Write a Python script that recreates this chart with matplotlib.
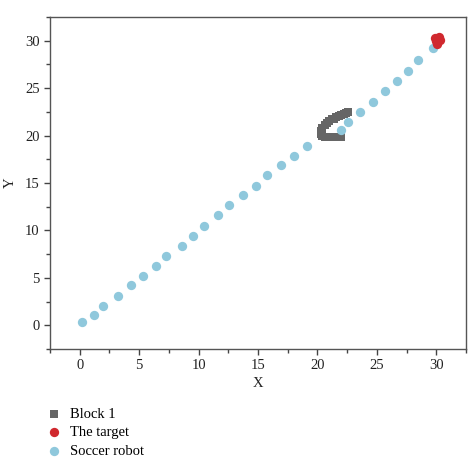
import matplotlib
matplotlib.use('Agg')
import matplotlib.pyplot as plt
from matplotlib.ticker import MultipleLocator

plt.rcParams['font.family'] = ['Liberation Serif', 'DejaVu Serif']

# soccer robot path
robot_x = [0.2, 1.2, 2.0, 3.2, 4.3, 5.3, 6.4, 7.3, 8.6, 9.5, 10.5, 11.6, 12.6, 13.7, 14.8,
           15.8, 16.9, 18.0, 19.1, 22.0, 22.6, 23.6, 24.7, 25.7, 26.7, 27.6, 28.5, 29.7]
robot_y = [0.4, 1.1, 2.0, 3.1, 4.2, 5.2, 6.3, 7.3, 8.4, 9.4, 10.5, 11.6, 12.7, 13.7, 14.7,
           15.8, 16.9, 17.8, 18.9, 20.6, 21.4, 22.5, 23.5, 24.7, 25.8, 26.8, 28.0, 29.2]

# obstacle (block 1)
block_x = [22.6, 22.4, 22.2, 22.0, 21.8, 21.6, 21.4, 21.2, 21.0, 20.8, 20.6, 20.4, 20.3, 20.3,
           20.4, 20.6, 20.9, 21.2, 21.5, 21.8, 22.0]
block_y = [22.5, 22.4, 22.3, 22.2, 22.1, 22.0, 21.8, 21.7, 21.5, 21.3, 21.1, 20.8, 20.5, 20.2,
           20.0, 19.9, 19.85, 19.85, 19.85, 19.85, 19.85]

# target
target_x = [30.0, 30.2, 30.1, 30.3, 29.9, 30.2]
target_y = [30.0, 30.2, 29.7, 30.1, 30.3, 30.4]

fig = plt.figure(figsize=(4.74, 4.74), dpi=100)
ax = fig.add_axes([0.1055, 0.2637, 0.8775, 0.7003])

ax.scatter(block_x, block_y, marker='s', s=28, color='#666666', linewidths=0, label='Block 1', zorder=2)
ax.scatter(robot_x, robot_y, marker='o', s=45, color='#8fc8dc', linewidths=0, label='Soccer robot', zorder=3)
ax.scatter(target_x, target_y, marker='o', s=45, color='#d0282e', linewidths=0, label='The target', zorder=4)

ax.set_xlim(-2.5, 32.5)
ax.set_ylim(-2.5, 32.5)
ax.xaxis.set_major_locator(MultipleLocator(5))
ax.xaxis.set_minor_locator(MultipleLocator(2.5))
ax.yaxis.set_major_locator(MultipleLocator(5))
ax.yaxis.set_minor_locator(MultipleLocator(2.5))
ax.tick_params(which='both', direction='out', colors='#444444', labelcolor='#222222', labelsize=10.5)
ax.tick_params(which='major', length=4, width=1)
ax.tick_params(which='minor', length=3, width=1)
for s in ax.spines.values():
    s.set_color('#555555')
    s.set_linewidth(1)

ax.set_xlabel('X', fontsize=10.5, color='#222222', labelpad=3)
ax.set_ylabel('Y', fontsize=10.5, color='#222222', labelpad=6)

h, l = ax.get_legend_handles_labels()
order = [0, 2, 1]
fig.legend([h[i] for i in order], [l[i] for i in order], loc='upper left',
           bbox_to_anchor=(0.083, 0.152), frameon=False, fontsize=10.5,
           handletextpad=0.5, labelspacing=0.35, borderaxespad=0, handlelength=1.2)

fig.savefig('out.png', dpi=100)
